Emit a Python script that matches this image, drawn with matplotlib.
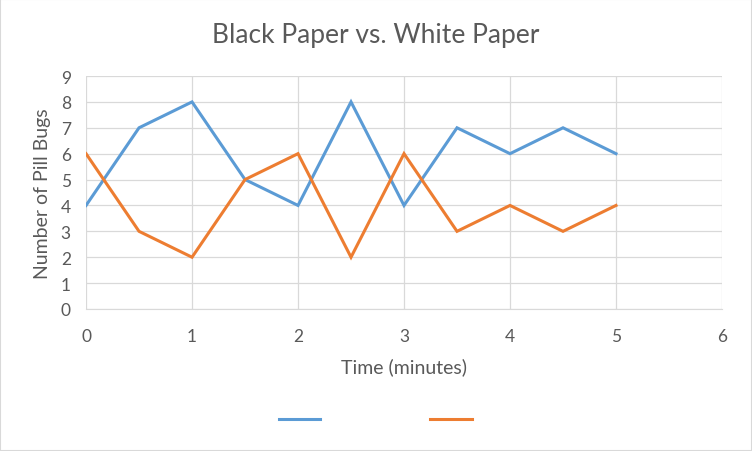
import matplotlib.pyplot as plt
from matplotlib.patches import Rectangle

# Data
time_min = [0, 0.5, 1, 1.5, 2, 2.5, 3, 3.5, 4, 4.5, 5]
black_paper = [4, 7, 8, 5, 4, 8, 4, 7, 6, 7, 6]
white_paper = [6, 3, 2, 5, 6, 2, 6, 3, 4, 3, 4]
x_ticks = [0, 1, 2, 3, 4, 5, 6]
y_ticks = list(range(10))

BLUE = '#5B9BD5'
ORANGE = '#ED7D31'
GRID = '#D9D9D9'
TEXT = '#595959'

plt.rcParams['font.family'] = ['Lato', 'DejaVu Sans']

fig = plt.figure(figsize=(7.52, 4.52), dpi=100)
ax = fig.add_axes([0.1144, 0.3142, 0.8457, 0.5154])

ax.plot(time_min, black_paper, color=BLUE, lw=2.2, solid_joinstyle='miter')
ax.plot(time_min, white_paper, color=ORANGE, lw=2.2, solid_joinstyle='miter')

ax.set_xlim(0, 6)
ax.set_ylim(0, 9)
ax.set_xticks(x_ticks)
ax.set_yticks(y_ticks)
ax.tick_params(length=0, labelsize=12.5, labelcolor=TEXT)
ax.tick_params(axis='x', pad=14)
ax.tick_params(axis='y', pad=11)
ax.grid(True, color=GRID, lw=0.9)
ax.set_axisbelow(True)
for side in ['top', 'right', 'left']:
    ax.spines[side].set_visible(False)
ax.spines['bottom'].set_color(GRID)

ax.set_xlabel('Time (minutes)', fontsize=14, color=TEXT, labelpad=9)
ax.set_ylabel('Number of Pill Bugs', fontsize=14, color=TEXT, labelpad=7)
fig.suptitle('Black Paper vs. White Paper', fontsize=19, color=TEXT, y=0.95)

leg = fig.legend(ax.lines, ['', ''], loc='center', bbox_to_anchor=(0.499, 0.068),
                 ncol=2, frameon=False, handlelength=3.0, handletextpad=0.0,
                 columnspacing=7.9, fontsize=10)

fig.patches.append(Rectangle((0, 0), 1, 1, transform=fig.transFigure,
                             fill=False, edgecolor=GRID, lw=1.5))

fig.savefig('out.png', dpi=100)
